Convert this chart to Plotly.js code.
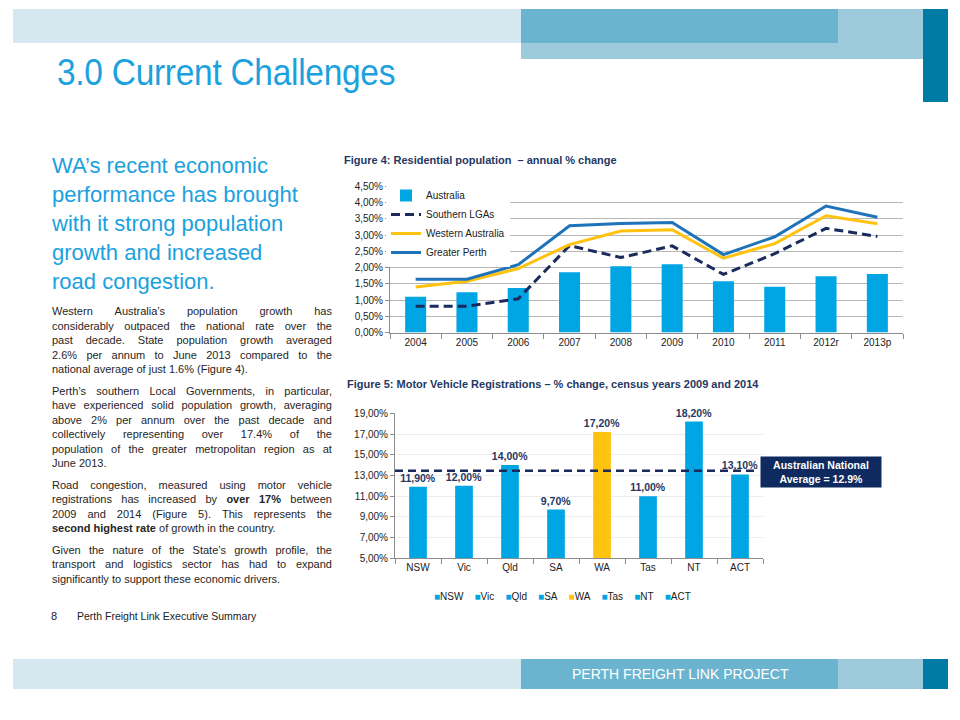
<!DOCTYPE html>
<html><head><meta charset="utf-8">
<script src="https://cdn.plot.ly/plotly-3.0.1.min.js"></script>
<style>
body{margin:0;background:#fff;}
#wrap{position:relative;width:960px;height:720px;overflow:hidden;}
#chart{position:absolute;left:0;top:0;width:960px;height:720px;}
.txt{position:absolute;font-family:'Liberation Sans',Arial,sans-serif;pointer-events:none;}
#title{left:57px;top:55px;font-size:36px;line-height:36px;color:#1ba1dd;white-space:nowrap;
  transform:scaleX(0.93);transform-origin:0 0;letter-spacing:-0.3px;}
#heading{left:52px;top:151px;font-size:22px;line-height:29px;color:#1ba1dd;white-space:nowrap;}
#body{left:52px;top:304px;width:280px;font-size:11px;line-height:14.5px;color:#262626;}
#body .p{margin:0 0 7px 0;}
#body .l{display:flex;justify-content:space-between;white-space:nowrap;}
#body .e{display:block;white-space:nowrap;}
</style></head>
<body>
<div id="wrap">
<div id="chart"></div>
<div id="title" class="txt">3.0 Current Challenges</div>
<div id="heading" class="txt">WA’s recent economic<br>performance has brought<br>with it strong population<br>growth and increased<br>road congestion.</div>
<div id="body" class="txt"></div>
</div>
<script>
// ---- Figure 4 data ----
const years = ['2004','2005','2006','2007','2008','2009','2010','2011','2012r','2013p'];
const australia = [1.10,1.24,1.37,1.86,2.04,2.10,1.58,1.41,1.73,1.80];
const southernLGAs = [0.81,0.81,1.04,2.68,2.31,2.67,1.79,2.43,3.21,2.96];
const westernAustralia = [1.40,1.58,1.97,2.71,3.13,3.17,2.29,2.74,3.60,3.35];
const greaterPerth = [1.64,1.64,2.09,3.29,3.36,3.39,2.40,2.95,3.90,3.55];
// ---- Figure 5 data ----
const states = ['NSW','Vic','Qld','SA','WA','Tas','NT','ACT'];
const registrations = [11.9,12.0,14.0,9.7,17.2,11.0,18.2,13.1];
const averageLineLevel = 13.45;

const BLUE = '#00a6e4', GOLD = '#ffc20e', NAVY = '#1a2a5c', PERTH = '#1f73b9', TITLE = '#1f3864';
const stateColors = states.map(s => s === 'WA' ? GOLD : BLUE);

// ---- body text ----
const paragraphs = [
 ['Western Australia’s population growth has',
  'considerably outpaced the national rate over the',
  'past decade. State population growth averaged',
  '2.6% per annum to June 2013 compared to the',
  'national average of just 1.6% (Figure 4).'],
 ['Perth’s southern Local Governments, in particular,',
  'have experienced solid population growth, averaging',
  'above 2% per annum over the past decade and',
  'collectively representing over 17.4% of the',
  'population of the greater metropolitan region as at',
  'June 2013.'],
 ['Road congestion, measured using motor vehicle',
  'registrations has increased by *over* *17%* between',
  '2009 and 2014 (Figure 5). This represents the',
  '*second* *highest* *rate* of growth in the country.'],
 ['Given the nature of the State’s growth profile, the',
  'transport and logistics sector has had to expand',
  'significantly to support these economic drivers.']
];
(function(){
  const body = document.getElementById('body');
  paragraphs.forEach(p => {
    const pd = document.createElement('div'); pd.className = 'p';
    p.forEach((line, i) => {
      const ld = document.createElement('div');
      const last = i === p.length - 1;
      ld.className = last ? 'e' : 'l';
      line.split(' ').forEach((w, j) => {
        let el;
        if (w.startsWith('*')) { el = document.createElement('b'); el.textContent = w.replace(/\*/g,''); }
        else { el = document.createElement('span'); el.textContent = w; }
        if (last && j > 0) ld.appendChild(document.createTextNode(' '));
        ld.appendChild(el);
      });
      pd.appendChild(ld);
    });
    body.appendChild(pd);
  });
})();

const px = x => x / 960, py = y => 1 - y / 720;
function rect(x0, y0, x1, y1, color) {
  return {type:'rect', xref:'paper', yref:'paper', x0:px(x0), x1:px(x1), y0:py(y1), y1:py(y0),
          fillcolor:color, line:{width:0}, layer:'below'};
}
const C_LIGHT = '#d5e8ef', C_DARK = '#6bb4d0', C_MID = '#9dcbdc', C_TEAL = '#007ca4';

const traces = [
  {type:'bar', name:'Australia', x:years, y:australia, xaxis:'x', yaxis:'y', width:0.41,
   marker:{color:BLUE}, hoverinfo:'skip'},
  {type:'scatter', mode:'lines', name:'Southern LGAs', x:years, y:southernLGAs, xaxis:'x', yaxis:'y',
   line:{color:NAVY, width:3, dash:'9px,5px'}},
  {type:'scatter', mode:'lines', name:'Western Australia', x:years, y:westernAustralia, xaxis:'x', yaxis:'y',
   line:{color:GOLD, width:3}},
  {type:'scatter', mode:'lines', name:'Greater Perth', x:years, y:greaterPerth, xaxis:'x', yaxis:'y',
   line:{color:PERTH, width:3}},
  {type:'bar', name:'Registrations', x:states, y:registrations, xaxis:'x2', yaxis:'y2', width:0.385,
   marker:{color:stateColors}, showlegend:false, texttemplate:'<b>%{y:.2f}%</b>', textposition:'outside',
   constraintext:'none', textfont:{size:10.5, color:TITLE}, cliponaxis:false}
];

const axisCommon = {showline:true, linecolor:'#8c8c8c', linewidth:1, ticks:'outside', tickcolor:'#8c8c8c',
  tickfont:{size:10, color:'#222'}, fixedrange:true, zeroline:false};

const legendText = states.map((s,i) => `<span style="color:${stateColors[i]}">■</span>${s}`).join('&nbsp;&nbsp;&nbsp;&nbsp;');

const layout = {
  width:960, height:720, margin:{l:0,r:0,t:0,b:0}, paper_bgcolor:'#fff', plot_bgcolor:'rgba(0,0,0,0)',
  separators:',.', font:{family:'Liberation Sans, Arial, sans-serif', size:10, color:'#222'},
  barmode:'overlay', showlegend:true,
  legend:{x:px(386), y:py(181), xanchor:'left', yanchor:'top', bgcolor:'#ffffff', font:{size:10, color:'#222'},
          traceorder:'normal', itemwidth:30},
  xaxis:Object.assign({}, axisCommon, {domain:[px(390), px(903)], anchor:'y', type:'category',
          tickson:'boundaries', ticklen:5, showgrid:false}),
  yaxis:Object.assign({}, axisCommon, {domain:[py(332.5), py(186.5)], anchor:'x', range:[0,4.5], dtick:0.5, tick0:0,
          tickformat:'.2f', ticksuffix:'%', ticklen:4, showgrid:true, gridcolor:'#b8b8b8'}),
  xaxis2:Object.assign({}, axisCommon, {domain:[px(395), px(763)], anchor:'y2', type:'category',
          tickson:'boundaries', ticklen:5, showgrid:false}),
  yaxis2:Object.assign({}, axisCommon, {domain:[py(558.3), py(413.3)], anchor:'x2', range:[5,19], dtick:2, tick0:5,
          tickformat:'.2f', ticksuffix:'%', ticklen:4, showgrid:true, gridcolor:'#ececec'}),
  shapes:[
    rect(13, 9, 521, 43, C_LIGHT), rect(521, 9, 838, 43, C_DARK), rect(838, 9, 923, 43, C_MID),
    rect(521, 43, 923, 59, C_MID), rect(923, 9, 948, 102, C_TEAL),
    rect(13, 659, 521, 689, C_LIGHT), rect(521, 659, 838, 689, C_DARK), rect(838, 659, 923, 689, C_MID),
    rect(923, 659, 948, 689, C_TEAL),
    {type:'line', xref:'x2 domain', yref:'y2', x0:0, x1:0.985, y0:averageLineLevel, y1:averageLineLevel,
     line:{color:NAVY, width:2.5, dash:'8px,5px'}, layer:'above'}
  ],
  annotations:[
    {xref:'paper', yref:'paper', x:px(342), y:py(160), xanchor:'left', yanchor:'middle', showarrow:false,
     text:'<b>Figure 4: Residential population  – annual % change</b>', font:{size:11, color:TITLE}},
    {xref:'paper', yref:'paper', x:px(345), y:py(384), xanchor:'left', yanchor:'middle', showarrow:false,
     text:'<b>Figure 5: Motor Vehicle Registrations – % change, census years 2009 and 2014</b>', font:{size:11, color:TITLE}},
    {xref:'paper', yref:'paper', x:px(821), y:py(472), xanchor:'center', yanchor:'middle', showarrow:false,
     text:'<b>Australian National<br>Average = 12.9%</b>', font:{size:10.5, color:'#fff'},
     bgcolor:'#0f2a5e', width:116, height:26, borderpad:2},
    {xref:'paper', yref:'paper', x:px(562), y:py(596), xanchor:'center', yanchor:'middle', showarrow:false,
     text:legendText, font:{size:10, color:'#222'}},
    {xref:'paper', yref:'paper', x:px(680), y:py(674), xanchor:'center', yanchor:'middle', showarrow:false,
     text:'PERTH FREIGHT LINK PROJECT', font:{size:14, color:'#ffffff'}},
    {xref:'paper', yref:'paper', x:px(49), y:py(616), xanchor:'left', yanchor:'middle', showarrow:false,
     text:'8', font:{size:11, color:'#222'}},
    {xref:'paper', yref:'paper', x:px(75), y:py(616), xanchor:'left', yanchor:'middle', showarrow:false,
     text:'Perth Freight Link Executive Summary', font:{size:10.5, color:'#222'}}
  ]
};

Plotly.newPlot('chart', traces, layout, {staticPlot:true, displayModeBar:false});
</script>
</body></html>
